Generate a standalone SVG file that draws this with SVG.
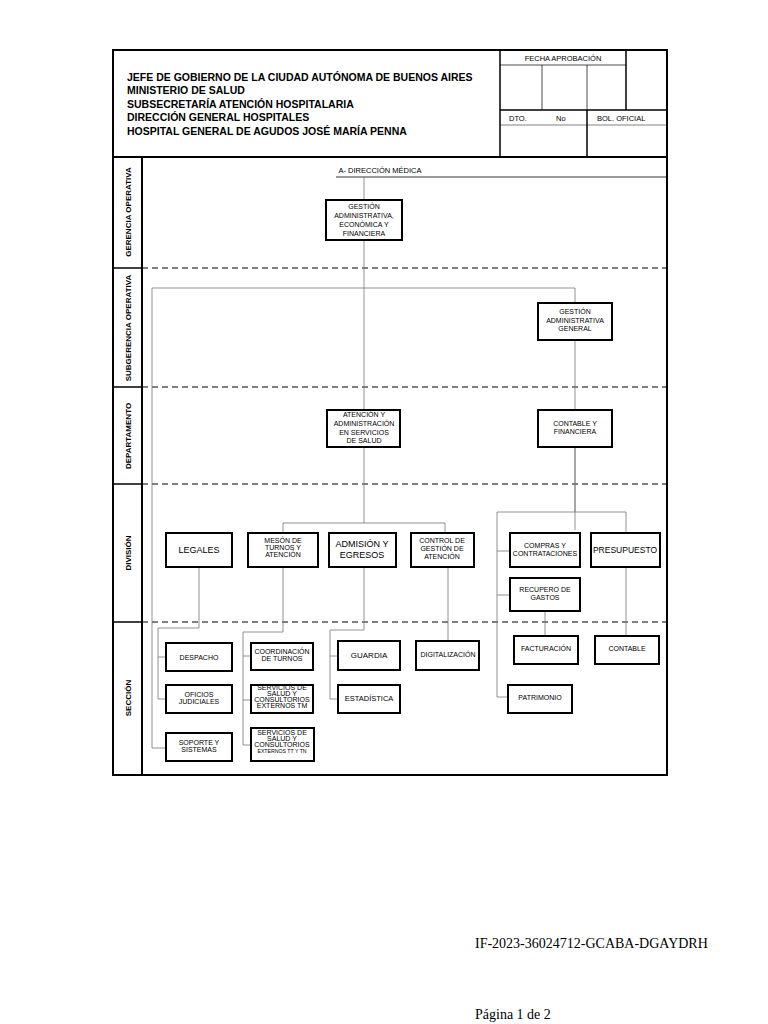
<svg xmlns="http://www.w3.org/2000/svg" width="768" height="1024" viewBox="0 0 768 1024">
<style>
text{font-family:"Liberation Sans",Arial,sans-serif;fill:#000}
.h{font-size:10.5px;font-weight:bold}
.s{font-size:7.5px}
.lane{font-size:8px;font-weight:bold}
.b rect{fill:#fff;stroke:#000;stroke-width:2}
.b text{font-size:7px;text-anchor:middle}
.b text.L{font-size:9px}
.c{fill:none;stroke:#777;stroke-width:0.8}
.d{stroke:#000;stroke-width:1;stroke-dasharray:6 4}
.f{fill:none;stroke:#000}
</style>
<rect width="768" height="1024" fill="#fff"/>
<g id="frame">
<rect class="f" x="113" y="50" width="554" height="725" stroke-width="2"/>
<line class="f" x1="113" y1="157" x2="667" y2="157" stroke-width="2"/>
<line class="f" x1="500" y1="50" x2="500" y2="157" stroke-width="1.5"/>
<line class="f" x1="587" y1="110" x2="587" y2="157" stroke-width="1.5"/>
<line class="f" x1="626" y1="50" x2="626" y2="110" stroke-width="1.5"/>
<line class="f" x1="500" y1="65" x2="626" y2="65" stroke-width="0.7"/>
<line class="f" x1="542" y1="65" x2="542" y2="110" stroke-width="0.7"/>
<line class="f" x1="587" y1="65" x2="587" y2="110" stroke-width="0.7"/>
<line class="f" x1="500" y1="110" x2="667" y2="110" stroke-width="1.5"/>
<line class="f" x1="500" y1="125" x2="667" y2="125" stroke-width="0.5"/>
<line class="f" x1="142" y1="157" x2="142" y2="775" stroke-width="2"/>
<line class="f" x1="113" y1="268" x2="142" y2="268" stroke-width="1.5"/>
<line class="f" x1="113" y1="387" x2="142" y2="387" stroke-width="1.5"/>
<line class="f" x1="113" y1="484" x2="142" y2="484" stroke-width="1.5"/>
<line class="f" x1="113" y1="622" x2="142" y2="622" stroke-width="1.5"/>
<line class="d" x1="142" y1="268" x2="667" y2="268"/>
<line class="d" x1="142" y1="387" x2="667" y2="387"/>
<line class="d" x1="142" y1="484" x2="667" y2="484"/>
<line class="d" x1="142" y1="622" x2="667" y2="622"/>
<text class="h" x="127" y="81">JEFE DE GOBIERNO DE LA CIUDAD AUTÓNOMA DE BUENOS AIRES</text>
<text class="h" x="127" y="94">MINISTERIO DE SALUD</text>
<text class="h" x="127" y="108">SUBSECRETARÍA ATENCIÓN HOSPITALARIA</text>
<text class="h" x="127" y="121">DIRECCIÓN GENERAL HOSPITALES</text>
<text class="h" x="127" y="135">HOSPITAL GENERAL DE AGUDOS JOSÉ MARÍA PENNA</text>
<text class="s" x="563" y="61" text-anchor="middle">FECHA APROBACIÓN</text>
<text class="s" x="509" y="121">DTO.</text>
<text class="s" x="556" y="121">No</text>
<text class="s" x="597" y="121">BOL. OFICIAL</text>
<text class="lane" transform="translate(131,212) rotate(-90)" text-anchor="middle">GERENCIA OPERATIVA</text>
<text class="lane" transform="translate(131,328) rotate(-90)" text-anchor="middle">SUBGERENCIA OPERATIVA</text>
<text class="lane" transform="translate(131,436) rotate(-90)" text-anchor="middle">DEPARTAMENTO</text>
<text class="lane" transform="translate(131,553) rotate(-90)" text-anchor="middle">DIVISIÓN</text>
<text class="lane" transform="translate(131,698) rotate(-90)" text-anchor="middle">SECCIÓN</text>
<text class="s" x="380" y="173" text-anchor="middle">A- DIRECCIÓN  MÉDICA</text>
<line class="f" x1="336" y1="177" x2="667" y2="177" stroke-width="0.8"/>
</g>
<g id="connectors">
<path class="c" d="M364 177V523"/>
<path class="c" d="M152 288H575V530M152 288V748H166"/>
<path class="c" d="M283 533V523H445V533"/>
<path class="c" d="M497 697V512H626V533M497 551H510M497 595H510M497 697H508"/>
<path class="c" d="M575 447V512"/>
<path class="c" d="M199 567V628H158V699H166M158 657H166"/>
<path class="c" d="M283 567V632H243V745H251M243 656H251M243 700H251"/>
<path class="c" d="M364 567V630H330V699H338M330 656H338"/>
<path class="c" d="M448 567V641"/>
<path class="c" d="M545 611V636"/>
<path class="c" d="M626 567V636"/>
</g>
<g id="n1" class="b"><rect x="326" y="200" width="76" height="40"/><text x="364" y="209">GESTIÓN</text><text x="364" y="218">ADMINISTRATIVA,</text><text x="364" y="227">ECONÓMICA Y</text><text x="364" y="236">FINANCIERA</text></g>
<g id="n2" class="b"><rect x="538" y="303" width="74" height="37"/><text x="575" y="314">GESTIÓN</text><text x="575" y="323">ADMINISTRATIVA</text><text x="575" y="331">GENERAL</text></g>
<g id="n3" class="b"><rect x="327" y="410" width="73" height="37"/><text x="364" y="417">ATENCIÓN Y</text><text x="364" y="426">ADMINISTRACIÓN</text><text x="364" y="435">EN SERVICIOS</text><text x="364" y="443">DE SALUD</text></g>
<g id="n4" class="b"><rect x="538" y="410" width="74" height="37"/><text x="575" y="426">CONTABLE Y</text><text x="575" y="434">FINANCIERA</text></g>
<g id="n5" class="b"><rect x="166" y="533" width="66" height="34"/><text class="L" x="199" y="553">LEGALES</text></g>
<g id="n6" class="b"><rect x="248" y="533" width="70" height="34"/><text x="283" y="543" font-size="6">MESÓN DE</text><text x="283" y="550" font-size="6">TURNOS Y</text><text x="283" y="557" font-size="6">ATENCIÓN</text></g>
<g id="n7" class="b"><rect x="329" y="533" width="67" height="34"/><text class="L" x="362" y="547">ADMISIÓN Y</text><text class="L" x="362" y="558">EGRESOS</text></g>
<g id="n8" class="b"><rect x="411" y="533" width="63" height="34"/><text x="442" y="543" font-size="8">CONTROL DE</text><text x="442" y="551" font-size="8">GESTIÓN DE</text><text x="442" y="559" font-size="8">ATENCIÓN</text></g>
<g id="n9" class="b"><rect x="510" y="533" width="70" height="34"/><text x="545" y="548" font-size="6">COMPRAS Y</text><text x="545" y="556" font-size="6">CONTRATACIONES</text></g>
<g id="n10" class="b"><rect x="591" y="533" width="69" height="34"/><text class="L" x="625" y="553" font-size="8.5" style="font-size:8.5px">PRESUPUESTO</text></g>
<g id="n11" class="b"><rect x="510" y="578" width="70" height="33"/><text x="545" y="592" font-size="8">RECUPERO DE</text><text x="545" y="600" font-size="8">GASTOS</text></g>
<g id="n12" class="b"><rect x="166" y="643" width="66" height="28"/><text x="199" y="660" font-size="6.5">DESPACHO</text></g>
<g id="n13" class="b"><rect x="166" y="685" width="66" height="28"/><text x="199" y="697" font-size="6.5">OFICIOS</text><text x="199" y="704" font-size="6.5">JUDICIALES</text></g>
<g id="n14" class="b"><rect x="166" y="733" width="66" height="28"/><text x="199" y="745" font-size="6.5">SOPORTE Y</text><text x="199" y="752" font-size="6.5">SISTEMAS</text></g>
<g id="n15" class="b"><rect x="251" y="643" width="62" height="27"/><text x="282" y="654" font-size="6">COORDINACIÓN</text><text x="282" y="661" font-size="6">DE TURNOS</text></g>
<g id="n16" class="b"><rect x="251" y="685" width="62" height="28"/><text x="282" y="690" font-size="5.5">SERVICIOS DE</text><text x="282" y="696" font-size="5.5">SALUD Y</text><text x="282" y="702" font-size="5.5">CONSULTORIOS</text><text x="282" y="708" font-size="5.5">EXTERNOS TM</text></g>
<g id="n17" class="b"><rect x="251" y="728" width="63" height="33"/><text x="282" y="735" font-size="5.5">SERVICIOS DE</text><text x="282" y="741" font-size="5.5">SALUD Y</text><text x="282" y="747" font-size="5.5">CONSULTORIOS</text><text x="282" y="753" font-size="5.5" style="font-size:5.2px">EXTERNOS TT Y TN</text></g>
<g id="n18" class="b"><rect x="338" y="641" width="62" height="29"/><text x="369" y="658" style="font-size:8px">GUARDIA</text></g>
<g id="n19" class="b"><rect x="338" y="685" width="62" height="28"/><text x="369" y="701" style="font-size:7.5px">ESTADÍSTICA</text></g>
<g id="n20" class="b"><rect x="416" y="641" width="63" height="29"/><text x="448" y="657">DIGITALIZACIÓN</text></g>
<g id="n21" class="b"><rect x="514" y="636" width="64" height="28"/><text x="546" y="651" font-size="6.5">FACTURACIÓN</text></g>
<g id="n22" class="b"><rect x="595" y="636" width="64" height="28"/><text x="627" y="651" font-size="6.5">CONTABLE</text></g>
<g id="n23" class="b"><rect x="508" y="685" width="64" height="28"/><text x="540" y="700" font-size="6.5">PATRIMONIO</text></g>
<text x="475" y="948" style="font-family:'Liberation Serif',serif;font-size:14px">IF-2023-36024712-GCABA-DGAYDRH</text>
<text x="475" y="1019" style="font-family:'Liberation Serif',serif;font-size:14px">Página 1 de 2</text>
</svg>
